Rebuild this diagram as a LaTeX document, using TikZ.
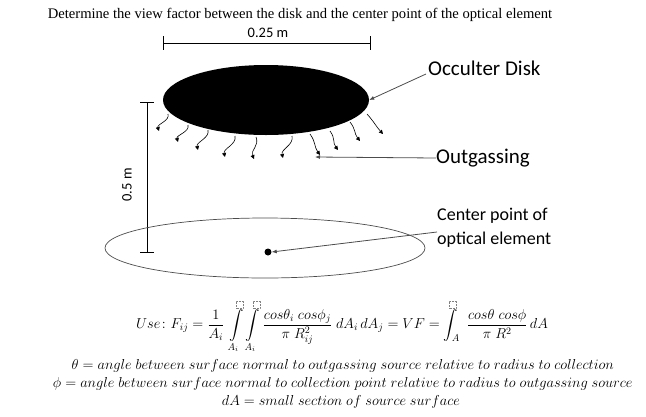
\documentclass[tikz,border=0pt]{standalone}
\usepackage{fontspec}
\usepackage{amsmath}
\setmainfont{Liberation Serif}
\newfontfamily\labfont{Carlito}
\usetikzlibrary{arrows.meta,shapes.geometric}
\begin{document}
\begin{tikzpicture}[x=1pt,y=-1pt,
  lab/.style={font=\labfont\fontsize{21}{24}\selectfont,inner sep=0pt},
  ptr/.style={draw=black!70,line width=0.8pt,-{Latex[length=5pt,width=4pt]}},
  gas/.style={line width=0.6pt,-{Triangle[length=4pt,width=4pt]}},
  eq/.style={inner sep=0pt,font=\fontsize{14}{16}\selectfont}]
\useasboundingbox (0,0) rectangle (646,416);
\node[inner sep=0pt,font=\fontsize{14.6}{16}\selectfont] (title) at (300,15) {Determine the view factor between the disk and the center point of the optical element};
% horizontal dimension
\draw[line width=0.7pt] (163,43) -- (370,43) (163,36) -- (163,50) (370,36) -- (370,50);
\node[lab,font=\labfont\fontsize{14.5}{16}\selectfont] (hl) at (268,33) {0.25 m};
% vertical dimension
\draw[line width=0.7pt] (147,102) -- (147,252) (140,102) -- (154,102) (140,252) -- (154,252);
\node[lab,font=\labfont\fontsize{14.5}{16}\selectfont,rotate=90] (vl) at (127,185) {0.5 m};
% disk
\node[ellipse,fill=black,minimum width=206pt,minimum height=70pt,inner sep=0pt] (disk) at (266,100) {};
% outgassing arrows
\foreach \ax/\ay/\bx/\by in {168/114/159/131, 188/125/178/142, 208/130/198/150, 235/136/225/157, 256/137/254/159, 292/136/283/158, 310/134/320/155, 330/131/338/150, 350/122/360/141, 367/114/383/134}{
  \draw[gas] (\ax,\ay) .. controls ({\ax+(\bx-\ax)*0.2+4},{\ay+(\by-\ay)*0.4}) and ({\bx-(\bx-\ax)*0.2-4},{\by-(\by-\ay)*0.4}) .. (\bx,\by);
}
\coordinate (g1) at (315,157);
% lower ellipse
\node[ellipse,draw=black!70,line width=0.7pt,minimum width=320pt,minimum height=60pt,inner sep=0pt] (opt) at (265,248) {};
\node[circle,fill=black,inner sep=0pt,minimum size=7pt] (dot) at (268,252) {};
% labels
\node[lab,anchor=west] (occ) at (428,68) {Occulter Disk};
\node[lab,anchor=west] (out) at (436,158) {Outgassing};
\node[lab,anchor=west,align=left,font=\labfont\fontsize{18}{24}\selectfont] (cp) at (437,228) {Center point of\\optical element};
\draw[ptr] ([shift={(-2,6)}]occ.west) -- (disk.east);
\draw[ptr] (out.west) -- (g1);
\draw[ptr] ([shift={(0,4)}]cp.west) -- (dot.east);
% formula
\node[eq] (f) at (342,331) {$Use\colon F_{ij}=\dfrac{1}{A_i}\,\displaystyle\int\limits_{A_i}\int\limits_{A_i}\dfrac{cos\theta_i\;cos\phi_j}{\pi\;R_{ij}^2}\;dA_i\,dA_j=VF=\int_A^{\phantom{x}}\dfrac{cos\theta\;cos\phi}{\pi\;R^2}\,dA$};
\foreach \bx/\by in {236/308,253/308,449/308}{\draw[densely dotted,gray] (\bx,\by) rectangle ++(7,-7);}
\node[eq,font=\fontsize{15.5}{17}\selectfont] (l1) at (343,366) {$\theta = angle\ between\ surface\ normal\ to\ outgassing\ source\ relative\ to\ radius\ to\ collection$};
\node[eq,font=\fontsize{15.5}{17}\selectfont] (l2) at (343,384) {$\phi = angle\ between\ surface\ normal\ to\ collection\ point\ relative\ to\ radius\ to\ outgassing\ source$};
\node[eq,font=\fontsize{15.5}{17}\selectfont] (l3) at (341,402) {$dA = small\ section\ of\ source\ surface$};
\end{tikzpicture}
\end{document}
